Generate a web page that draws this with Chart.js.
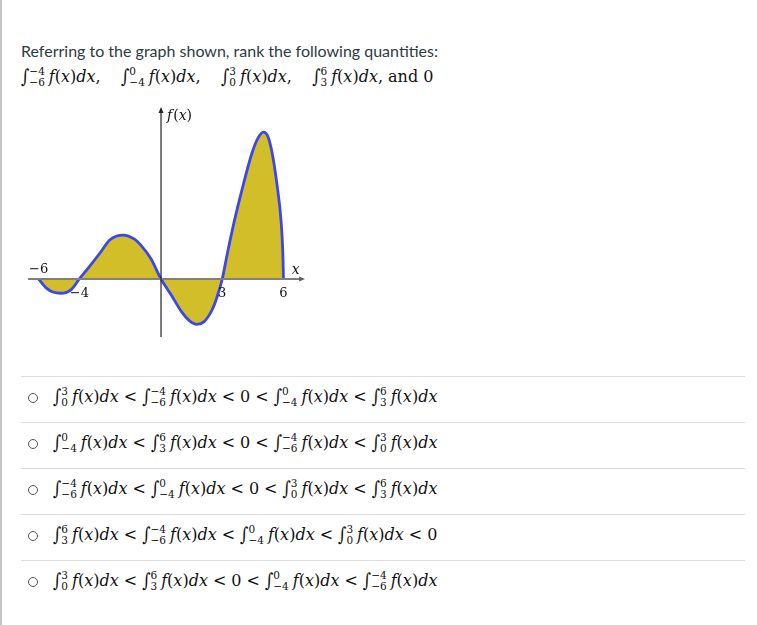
<!DOCTYPE html>
<html>
<head>
<meta charset="utf-8">
<script src="https://cdn.jsdelivr.net/npm/chart.js@4.4.1/dist/chart.umd.min.js"></script>
<style>
  body { margin: 0; background: #fff; width: 757px; height: 625px; overflow: hidden; position: relative; font-family: Lato, sans-serif; color: #2d3b45; }
  .bar { position: absolute; left: 0; top: 0; width: 2px; height: 625px; background: #c4c4c4; }
  .q { position: absolute; left: 21px; top: 41px; font-size: 16px; white-space: nowrap; }
  .m { font-family: "DejaVu Serif", serif; font-size: 16px; line-height: 18px; color: #111; white-space: nowrap; }
  .mline { position: absolute; left: 21px; top: 68px; }
  .m i { font-style: italic; }
  .int { display: inline-block; white-space: nowrap; }
  .int .s { display: inline-block; font-size: 16px; transform: scaleY(1.2); }
  .lim { display: inline-flex; flex-direction: column; position: relative; top: -7px; font-size: 10.5px; line-height: 11px; margin-left: 0; margin-right: 4px; }
  .rel { margin: 0 5px; }
  .chart { position: absolute; left: 20px; top: 100px; width: 300px; height: 250px; }
  .opt { position: absolute; left: 21px; width: 724px; height: 46px; border-top: 1px solid #dcdcdc; }
  .opt .radio { position: absolute; left: 7px; top: 16px; width: 8px; height: 8px; border: 1px solid #555; border-radius: 50%; }
  .opt .m { position: absolute; left: 32px; top: 11px; }
</style>
</head>
<body>
<div class="bar"></div>
<div class="q">Referring to the graph shown, rank the following quantities:</div>
<div class="m mline" id="quantities"></div>
<div class="chart"><canvas id="c" width="300" height="250"></canvas></div>
<div id="options"></div>
<script>
// puntos
const xValues = [-6, -5.6, -5.3, -4.9, -4.4, -4, -3.5, -3, -2.5, -1.85, -1.3, -1, -0.5, 0,
  0.5, 1, 1.4, 1.75, 2.1, 2.5, 2.75, 3, 3.25, 3.6, 4, 4.45, 4.75, 5.02, 5.25, 5.45, 5.7, 5.88, 5.97, 6];
const fValues = [0, -0.46, -0.64, -0.70, -0.52, 0, 0.62, 1.26, 1.92, 2.15, 1.95, 1.67, 1.0, 0,
  -0.78, -1.6, -2.05, -2.22, -2.1, -1.52, -0.87, 0, 1.25, 2.87, 4.5, 6.15, 6.9, 7.2, 6.95, 6.15, 4.5, 2.87, 1.25, 0];
const tickValues = [-6, -4, 3, 6];
const tickLabels = ['\u22126', '\u22124', '3', '6'];

// integrales: [inferior, superior]
const quantities = [['\u22126', '\u22124'], ['\u22124', '0'], ['0', '3'], ['3', '6']];
const optionOrders = [
  ['0,3', '<', '-6,-4', '<', '0', '<', '-4,0', '<', '3,6'],
  ['-4,0', '<', '3,6', '<', '0', '<', '-6,-4', '<', '0,3'],
  ['-6,-4', '<', '-4,0', '<', '0', '<', '0,3', '<', '3,6'],
  ['3,6', '<', '-6,-4', '<', '-4,0', '<', '0,3', '<', '0'],
  ['0,3', '<', '3,6', '<', '0', '<', '-4,0', '<', '-6,-4']
];

function integral(lo, hi) {
  return `<span class="int"><span class="s">\u222B</span><span class="lim"><span class="hi">${hi}</span><span class="lo">${lo}</span></span><i>f</i>(<i>x</i>)<i>dx</i></span>`;
}

function term(t) {
  if (t === '<') return '<span class="rel">&lt;</span>';
  if (t === '0') return '0';
  const [lo, hi] = t.split(',').map(s => s.replace('-', '\u2212'));
  return integral(lo, hi);
}

document.getElementById('quantities').innerHTML =
  quantities.map(q => integral(q[0], q[1])).join(',&nbsp;&nbsp;&nbsp; ') + ', and 0';

let html = '';
optionOrders.forEach((o, idx) => {
  html += `<div class="opt" style="top:${376 + idx * 46}px"><div class="radio"></div><div class="m">${o.map(term).join('')}</div></div>`;
});
document.getElementById('options').innerHTML = html;

// ejes con flechas y etiquetas
const axesPlugin = {
  id: 'axes',
  afterDatasetsDraw(chart) {
    const { ctx, scales: { x, y } } = chart;
    const x0 = x.getPixelForValue(0);
    const y0 = y.getPixelForValue(0);
    ctx.save();
    // eje x
    const xl = x.getPixelForValue(-6.52), xr = x.getPixelForValue(7.06);
    ctx.strokeStyle = '#808080';
    ctx.lineWidth = 2;
    ctx.beginPath(); ctx.moveTo(xl, y0); ctx.lineTo(xr - 3, y0); ctx.stroke();
    ctx.fillStyle = '#606060';
    ctx.beginPath(); ctx.moveTo(xr, y0); ctx.lineTo(xr - 6, y0 - 2.5); ctx.lineTo(xr - 6, y0 + 2.5); ctx.closePath(); ctx.fill();
    // eje y
    const yt = y.getPixelForValue(8.43), yb = y.getPixelForValue(-2.84);
    ctx.strokeStyle = '#222';
    ctx.lineWidth = 1.2;
    ctx.beginPath(); ctx.moveTo(x0, yb); ctx.lineTo(x0, yt + 3); ctx.stroke();
    ctx.fillStyle = '#222';
    ctx.beginPath(); ctx.moveTo(x0, yt); ctx.lineTo(x0 - 2.5, yt + 6); ctx.lineTo(x0 + 2.5, yt + 6); ctx.closePath(); ctx.fill();
    // etiquetas
    ctx.fillStyle = '#111';
    ctx.font = '13px "DejaVu Serif", serif';
    ctx.textAlign = 'center';
    ctx.textBaseline = 'alphabetic';
    tickValues.forEach((v, i) => {
      const px = x.getPixelForValue(v);
      ctx.fillText(tickLabels[i], px, v === -6 ? y0 - 6 : y0 + 18);
    });
    ctx.font = 'italic 14px "DejaVu Serif", serif';
    ctx.fillText('x', x.getPixelForValue(6.6), y0 - 5);
    ctx.textAlign = 'left';
    const by = y.getPixelForValue(7.8);
    let px = x0 + 6;
    [['f', true], ['(', false], ['x', true], [')', false]].forEach(([s, it]) => {
      ctx.font = (it ? 'italic ' : '') + '14px "DejaVu Serif", serif';
      ctx.fillText(s, px, by);
      px += ctx.measureText(s).width + (s === 'f' ? 1 : 0);
    });
    ctx.restore();
  }
};

new Chart(document.getElementById('c'), {
  type: 'line',
  data: {
    datasets: [{
      data: xValues.map((v, i) => ({ x: v, y: fValues[i] })),
      borderColor: '#3b45f0',
      backgroundColor: 'rgb(210, 190, 40)',
      borderWidth: 2.8,
      fill: 'origin',
      cubicInterpolationMode: 'monotone',
      pointRadius: 0
    }]
  },
  options: {
    responsive: false,
    animation: false,
    devicePixelRatio: 1,
    layout: { padding: 0 },
    plugins: { legend: { display: false }, tooltip: { enabled: false } },
    scales: {
      x: { type: 'linear', min: -6.91, max: 7.79, display: false },
      y: { min: -3.48, max: 8.77, display: false }
    }
  },
  plugins: [axesPlugin]
});
</script>
</body>
</html>
